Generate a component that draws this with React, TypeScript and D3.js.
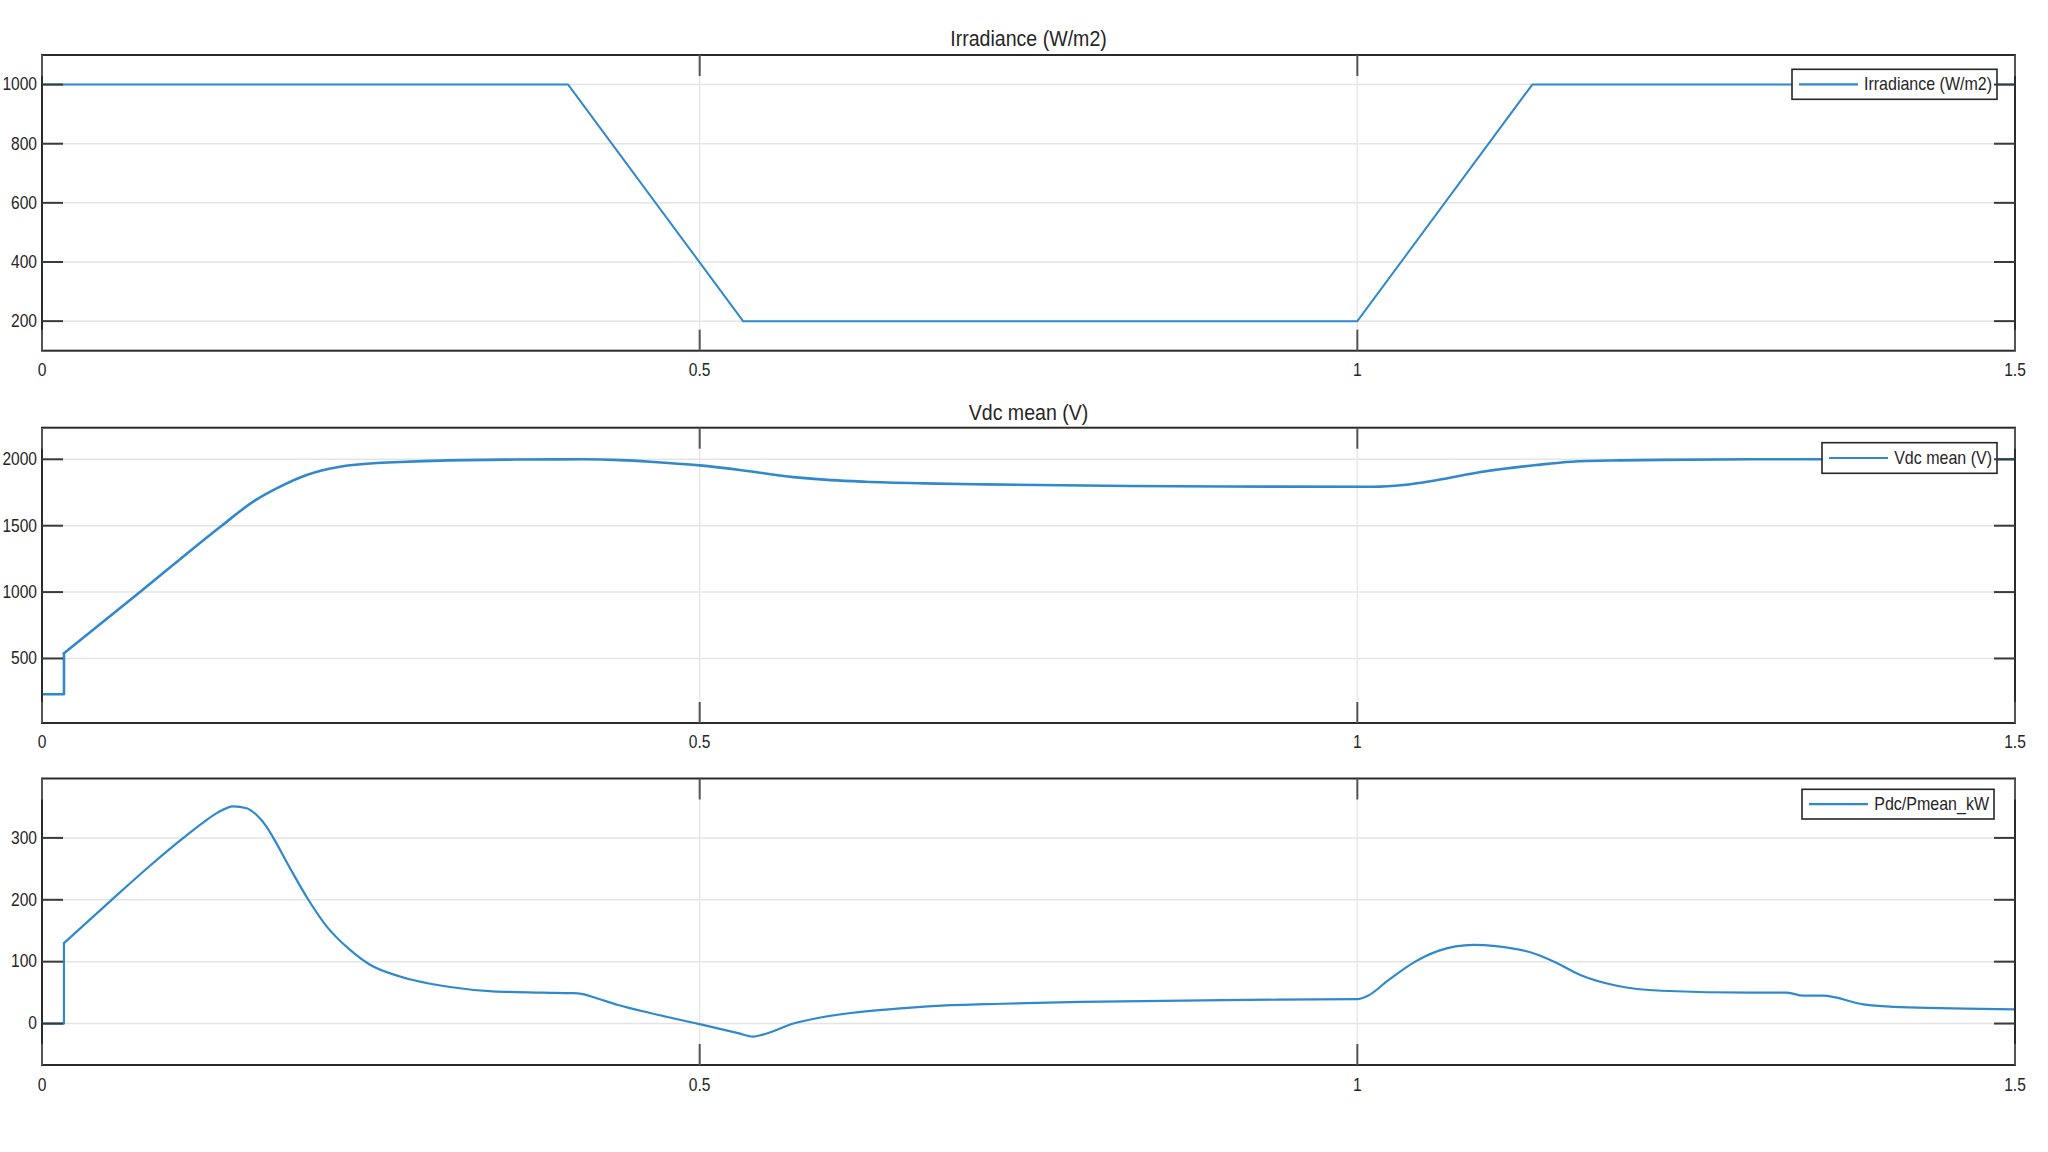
import React from 'react';
import * as d3 from 'd3';

// ---------- data ----------
const xTicks = [0, 0.5, 1, 1.5];
const xTickLabels = ['0', '0.5', '1', '1.5'];

const irrTime = [0, 0.4, 0.533, 1.0, 1.133, 1.5];
const irrValue = [1000, 1000, 200, 200, 1000, 1000];
const irrTicks = [200, 400, 600, 800, 1000];

const vdcTime = [0, 0.0167, 0.0167, 0.0745, 0.1366, 0.1606, 0.181, 0.2012, 0.2266, 0.252, 0.2722, 0.3087, 0.36, 0.411, 0.44, 0.4623, 0.5, 0.535, 0.5713, 0.6, 0.626, 0.67, 0.717, 0.826, 0.935, 1.012, 1.035, 1.061, 1.0951, 1.136, 1.163, 1.2, 1.231, 1.3, 1.5];
const vdcValue = [230, 230, 539, 1000, 1500, 1681, 1794, 1882, 1944, 1970, 1980, 1992, 1998, 2000, 1994, 1982, 1954, 1914, 1866, 1843, 1831, 1819, 1811, 1799, 1794, 1793, 1806, 1844, 1906, 1957, 1982, 1992, 1996, 2000, 2000];
const vdcTicks = [500, 1000, 1500, 2000];

const pdcTime = [0, 0.0167, 0.0167, 0.0515, 0.0821, 0.1075, 0.1227, 0.1328, 0.1455, 0.1556, 0.1632, 0.1708, 0.1759, 0.1886, 0.2025, 0.2164, 0.2342, 0.2494, 0.2722, 0.3102, 0.3427, 0.38, 0.404, 0.41, 0.42, 0.438, 0.4623, 0.5, 0.53, 0.5405, 0.548, 0.5713, 0.59, 0.615, 0.65, 0.6805, 0.73, 0.7896, 0.8987, 1.0, 1.0081, 1.0236, 1.044, 1.061, 1.0883, 1.1053, 1.136, 1.1496, 1.17, 1.1973, 1.2314, 1.2995, 1.3268, 1.3387, 1.3541, 1.3847, 1.4187, 1.5];
const pdcValue = [0, 0, 130, 197, 255, 300, 325, 340, 351, 348, 337, 318, 300, 251, 200, 157, 119, 95, 76, 59, 52, 50, 49, 48, 42, 30, 17, -1, -16, -21, -18, 0, 9, 17, 24, 28.5, 32, 35, 38, 39.5, 45, 70, 100, 117, 127, 125, 112, 100, 78, 61, 53, 50, 50, 45, 45, 31, 26, 23];
const pdcTicks = [0, 100, 200, 300];

const titles = ['Irradiance (W/m2)', 'Vdc mean (V)', ''];
const legendLabels = ['Irradiance (W/m2)', 'Vdc mean (V)', 'Pdc/Pmean_kW'];

// ---------- layout ----------
const W = 2048;
const H = 1152;
const LEFT = 42;
const RIGHT = 2015;
const TICK = 21;
const FONT = '"Liberation Sans", Arial, Helvetica, sans-serif';
const TXT = '#262626';
const LINE = '#3089ca';
const SX = 0.89;

const panels = [
  { top: 55, bottom: 350.7, domain: [100, 1100], ticks: irrTicks, t: irrTime, v: irrValue, titleY: 38, labelY: 370, lw: 2, smooth: false, split: 0,
    legend: { x0: 1792, x1: 1997, y0: 69.3, y1: 99.3 } },
  { top: 427.7, bottom: 723, domain: [14, 2238], ticks: vdcTicks, t: vdcTime, v: vdcValue, titleY: 412, labelY: 742, lw: 2.6, smooth: true, split: 2,
    legend: { x0: 1822, x1: 1997, y0: 442.7, y1: 473.3 } },
  { top: 778.5, bottom: 1065, domain: [-67, 396], ticks: pdcTicks, t: pdcTime, v: pdcValue, titleY: 0, labelY: 1085, lw: 2.2, smooth: true, split: 2,
    legend: { x0: 1802, x1: 1994, y0: 789.3, y1: 819 } },
];

function SText({ x, y, size, anchor, children }: any) {
  return (
    <text
      transform={`translate(${x},${y}) scale(${SX},1)`}
      fontFamily={FONT}
      fontSize={size}
      fill={TXT}
      textAnchor={anchor}
      dominantBaseline="central"
    >
      {children}
    </text>
  );
}

export default function App() {
  const x = d3.scaleLinear().domain([0, 1.5]).range([LEFT, RIGHT]);

  return (
    <div style={{ position: 'fixed', left: 0, top: 0, width: W, height: H, background: '#fff' }}>
      <svg width={W} height={H} viewBox={`0 0 ${W} ${H}`} style={{ display: 'block' }}>
        <rect x={0} y={0} width={W} height={H} fill="#fff" />
        {panels.map((p, i) => {
          const y = d3.scaleLinear().domain(p.domain).range([p.bottom, p.top]);
          const pts: [number, number][] = p.t.map((t, k) => [t, p.v[k]]);
          const linLine = d3
            .line<[number, number]>()
            .x((d) => x(d[0]))
            .y((d) => y(d[1]))
            .curve(d3.curveLinear);
          const smoothLine = d3
            .line<[number, number]>()
            .x((d) => x(d[0]))
            .y((d) => y(d[1]))
            .curve(d3.curveMonotoneX);
          const paths: string[] = [];
          if (!p.smooth) {
            paths.push(linLine(pts) || '');
          } else {
            if (p.split > 0) paths.push(linLine(pts.slice(0, p.split + 1)) || '');
            paths.push(smoothLine(pts.slice(p.split)) || '');
          }
          const clipId = `clip${i}`;
          const L = p.legend;
          const ly = (L.y0 + L.y1) / 2;
          return (
            <g key={i}>
              <defs>
                <clipPath id={clipId}>
                  <rect x={LEFT} y={p.top} width={RIGHT - LEFT} height={p.bottom - p.top} />
                </clipPath>
              </defs>
              {/* grid */}
              {p.ticks.map((tv) => (
                <line key={'gy' + tv} x1={LEFT} x2={RIGHT} y1={y(tv)} y2={y(tv)} stroke="#e4e4e4" strokeWidth={1.5} />
              ))}
              {xTicks.slice(1, -1).map((tv) => (
                <line key={'gx' + tv} x1={x(tv)} x2={x(tv)} y1={p.top} y2={p.bottom} stroke="#e8e8e8" strokeWidth={1.5} />
              ))}
              {/* data */}
              <g clipPath={`url(#${clipId})`}>
                {paths.map((d, k) => (
                  <path key={k} d={d} fill="none" stroke={LINE} strokeWidth={p.lw} strokeLinejoin="round" strokeLinecap="round" />
                ))}
              </g>
              {/* legend */}
              <rect x={L.x0} y={L.y0} width={L.x1 - L.x0} height={L.y1 - L.y0} fill="#fff" stroke="#262626" strokeWidth={1.6} />
              <line x1={L.x0 + 7} x2={L.x0 + 66} y1={ly} y2={ly} stroke={LINE} strokeWidth={2.2} />
              <SText x={L.x1 - 5} y={ly} size={18} anchor="end">{legendLabels[i]}</SText>
              {/* box */}
              <rect x={LEFT} y={p.top} width={RIGHT - LEFT} height={p.bottom - p.top} fill="none" stroke="#2b2b2b" strokeWidth={2} />
              {/* y ticks */}
              {p.ticks.map((tv) => (
                <g key={'ty' + tv}>
                  <line x1={LEFT} x2={LEFT + TICK} y1={y(tv)} y2={y(tv)} stroke="#3a3a3a" strokeWidth={2} />
                  <line x1={RIGHT - TICK} x2={RIGHT} y1={y(tv)} y2={y(tv)} stroke="#3a3a3a" strokeWidth={2} />
                  <SText x={LEFT - 5} y={y(tv)} size={17.5} anchor="end">{String(tv)}</SText>
                </g>
              ))}
              {/* x ticks */}
              {xTicks.map((tv, k) => (
                <g key={'tx' + tv}>
                  <line x1={x(tv)} x2={x(tv)} y1={p.bottom} y2={p.bottom - TICK} stroke="#555" strokeWidth={2} />
                  <line x1={x(tv)} x2={x(tv)} y1={p.top} y2={p.top + TICK} stroke="#555" strokeWidth={2} />
                  <SText x={x(tv)} y={p.labelY} size={17.5} anchor="middle">{xTickLabels[k]}</SText>
                </g>
              ))}
              {titles[i] ? (
                <SText x={(LEFT + RIGHT) / 2} y={p.titleY} size={22} anchor="middle">{titles[i]}</SText>
              ) : null}
            </g>
          );
        })}
      </svg>
    </div>
  );
}
